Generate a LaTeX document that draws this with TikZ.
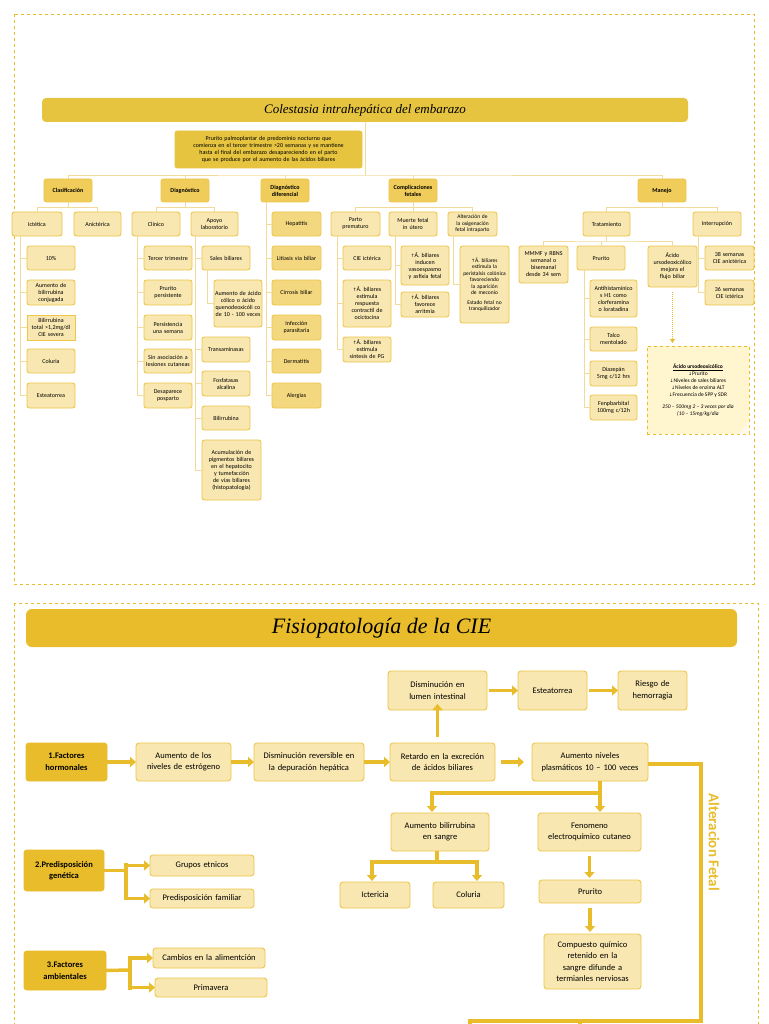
\documentclass[tikz,border=0pt]{standalone}
\usepackage{fontspec}
\setmainfont{Carlito}
\newfontfamily\djfont{DejaVu Sans}
\newfontfamily\ttlfont{Liberation Serif}
\usetikzlibrary{arrows.meta}
\hyphenpenalty=10000 \exhyphenpenalty=10000
\definecolor{gold}{HTML}{E8BC2A}
\definecolor{tbar}{HTML}{E6C440}
\definecolor{lvl}{HTML}{F0CD5A}
\definecolor{bfill}{HTML}{F8E7B0}
\definecolor{bdraw}{HTML}{EDC64A}
\definecolor{dfill}{HTML}{F4D87F}
\definecolor{tline}{HTML}{F2DB9A}
\definecolor{note}{HTML}{FFF5CF}
\newcommand\myup{{\djfont\fontsize{4.5}{5}\selectfont↑}}
\newcommand\mydn{{\djfont\fontsize{4.5}{5}\selectfont↓}}
\newcommand\bx[8][4]{\pgfmathsetmacro\ww{#6-#4}\pgfmathsetmacro\hh{#7-#5}\pgfmathsetmacro\tw{#6-#4-#1}%
\node[#2,minimum width=\ww pt,minimum height=\hh pt,text width=\tw pt] (#3) at ({(#4+#6)/2},{(#5+#7)/2}) {\hyphenpenalty=10000 #8};}
\tikzset{
 box/.style={draw=bdraw,fill=bfill,rounded corners=2.5pt,line width=0.9pt,align=center,inner sep=0pt,outer sep=0pt,font=\fontsize{6}{7}\selectfont},
 lbox/.style={box,fill=lvl,font=\bfseries\fontsize{6}{7}\selectfont},
 dbox/.style={box,fill=dfill},
 sbox/.style={box,rounded corners=0pt},
 bbox/.style={box,fill=bfill,draw=bdraw,rounded corners=3pt,font=\fontsize{8.5}{11.5}\selectfont},
 gbox/.style={bbox,fill=gold,draw=gold,font=\bfseries\fontsize{8.5}{11.5}\selectfont},
 tl/.style={draw=tline,line width=0.8pt},
 fat/.style={draw=gold,line width=3.5pt,-{Triangle[width=10pt,length=6pt]}},
 fl/.style={draw=gold,line width=3.5pt},
}
\begin{document}
\begin{tikzpicture}[x=1pt,y=-1pt]
\useasboundingbox (0,0) rectangle (768,1024);
\fill[white] (0,0) rectangle (768,1024);
% ---------- top section
\draw[gold,dashed,line width=0.7pt] (14,14) rectangle (754,584);
\node[fill=tbar,rounded corners=4pt,minimum width=646pt,minimum height=24pt,inner sep=0pt,font=\ttlfont\itshape\fontsize{13}{14}\selectfont] (title) at (365,110) {Colestasia intrahepática del embarazo};
\bx[8]{box,fill=tbar,draw=tbar}{intro}{175}{131}{362}{168}{Prurito palmoplantar de predominio nocturno que comienza en el tercer trimestre >20 semanas y se mantiene hasta el final del embarazo desapareciendo en el parto que se produce por el aumento de las ácidos biliares}
\bx{lbox}{clas}{44}{179}{92}{202}{Clasificación}
\bx{lbox}{diag}{161}{179}{209}{202}{Diagnóstico}
\bx{lbox}{ddif}{261}{179}{309}{202}{Diagnóstico diferencial}
\bx{lbox}{comp}{389}{179}{437}{202}{Complicaciones fetales}
\bx{lbox}{man}{638}{179}{686}{202}{Manejo}
\coordinate (h1) at (365,175);
\draw[tl] (title.south -| h1) -- (h1);
\draw[tl] (clas.north) |- (h1) -| (man.north);
\foreach \n in {diag,ddif,comp} \draw[tl] (\n.north) -- (\n.north |- h1);
% level 2
\bx{box}{icte}{12}{212}{62}{236}{Ictética}
\bx{box}{anic}{74}{212}{121}{236}{Anictérica}
\bx[10]{box}{clin}{132}{212}{180}{236}{Clínico}
\bx[10]{box}{apoyo}{191}{212}{238}{236}{Apoyo laboratorio}
\bx[12]{box}{parto}{331}{212}{380}{236}{Parto prematuro}
\bx[2]{box}{muerte}{389}{212}{437}{236}{Muerte fetal in útero}
\bx[2]{box,font=\fontsize{5.5}{6.5}\selectfont}{alter}{448}{212}{497}{236}{Alteración de la oxigenación fetal intraparto}
\bx{box}{trat}{583}{212}{630}{236}{Tratamiento}
\bx{box}{inter}{693}{212}{741}{236}{Interrupción}
\draw[tl] (clas.south) -- ++(0,5) -| (icte.north); \draw[tl] (clas.south) ++(0,5) -| (anic.north);
\draw[tl] (diag.south) -- ++(0,5) -| (clin.north); \draw[tl] (diag.south) ++(0,5) -| (apoyo.north);
\draw[tl] (comp.south) -- ++(0,5) -| (parto.north); \draw[tl] (comp.south) ++(0,5) -| (alter.north);
\draw[tl] (comp.south) -- (muerte.north);
\draw[tl] (man.south) -- ++(0,5) -| (trat.north); \draw[tl] (man.south) ++(0,5) -| (inter.north);
% Ictetica children
\bx{box}{i1}{27}{246}{75}{270}{10\%}
\bx[8]{box}{i2}{27}{280}{75}{305}{Aumento de bilirrubina conjugada}
\bx[2]{sbox}{i3}{27}{315}{75}{340}{Bilirrubina total >1,2mg/dl CIE severa}
\bx{box}{i4}{27}{349}{75}{373}{Coluria}
\bx{box}{i5}{27}{383}{75}{408}{Esteatorrea}
\draw[tl] ([xshift=8pt]icte.south west) |- (i5.west);
\foreach \n in {i1,i2,i3,i4} \draw[tl] (\n.west) -- ++(-7,0);
% Clinico
\bx[2]{box}{c1}{144}{246}{192}{270}{Tercer trimestre}
\bx[8]{box}{c2}{144}{280}{192}{305}{Prurito persistente}
\bx[2]{box}{c3}{144}{315}{192}{340}{Persistencia una semana}
\bx[2]{box}{c4}{144}{349}{192}{373}{Sin asociación a lesiones cutaneas}
\bx[8]{box}{c5}{144}{383}{192}{408}{Desaparece posparto}
\draw[tl] ([xshift=5pt]clin.south west) |- (c5.west);
\foreach \n in {c1,c2,c3,c4} \draw[tl] (\n.west) -- ++(-7,0);
% Apoyo
\bx[2]{box}{a1}{202}{246}{250}{270}{Sales biliares}
\bx[2]{box}{a2}{214}{280}{262}{327}{Aumento de ácido cólico o ácido quenodeoxicóli co de 10 - 100 veces}
\bx[2]{box}{a3}{202}{337}{250}{362}{Transaminasas}
\bx[8]{box}{a4}{202}{371}{250}{396}{Fosfatasas alcalina}
\bx{box}{a5}{202}{406}{250}{430}{Bilirrubina}
\bx[3]{box}{a6}{202}{440}{261}{500}{Acumulación de pigmentos biliares en el hepatocito y tumefacción de vías biliares (histopatología)}
\draw[tl] ([xshift=4pt]apoyo.south west) |- (a6.west);
\foreach \n in {a1,a3,a4,a5} \draw[tl] (\n.west) -- ++(-7,0);
\draw[tl] ([xshift=5pt]a1.south west) |- (a2.west);
% Dx diferencial
\bx{dbox}{d1}{272}{212}{321}{236}{Hepatitis}
\bx[2]{dbox}{d2}{272}{246}{321}{270}{Litiasis via biliar}
\bx{dbox}{d3}{272}{280}{321}{305}{Cirrosis biliar}
\bx[8]{dbox}{d4}{272}{315}{321}{340}{Infección parasitaria}
\bx{dbox}{d5}{272}{349}{321}{373}{Dermatitis}
\bx{dbox}{d6}{272}{383}{321}{408}{Alergias}
\draw[tl] ([xshift=5pt]ddif.south west) |- (d6.west);
\foreach \n in {d1,d2,d3,d4,d5} \draw[tl] (\n.west) -- ++(-6,0);
% Parto
\bx{box}{p1}{343}{246}{391}{270}{CIE ictérica}
\bx[4]{box}{p2}{343}{280}{391}{327}{\myup Á. biliares estimula respuesta contractil de ocictocina}
\bx[8]{box}{p3}{343}{337}{391}{362}{\myup Á. biliares estimula síntesis de PG}
\draw[tl] ([xshift=6pt]parto.south west) |- (p3.west);
\foreach \n in {p1,p2} \draw[tl] (\n.west) -- ++(-6,0);
% Muerte
\bx[4]{box}{m1}{401}{246}{449}{285}{\myup Á. biliares inducen vasoespasmo y asfixia fetal}
\bx[8]{box}{m2}{401}{292}{449}{317}{\myup Á. biliares favorece arritmia}
\draw[tl] ([xshift=6pt]muerte.south west) |- (m2.west);
\draw[tl] (m1.west) -- ++(-6,0);
% Alteracion
\bx[3]{box,font=\fontsize{5.5}{6.5}\selectfont}{al1}{460}{246}{509}{323}{\myup Á. biliares estimula la peristalsis colónica favoreciendo la aparición de meconio\\[3pt] Estado fetal no tranquilizador}
\draw[tl] ([xshift=5pt]alter.south west) |- (al1.west);
% Tratamiento
\bx[3]{box}{t1}{519}{246}{568}{283}{MMMF y RBNS semanal o bisemanal desde 34 sem}
\bx{box}{t2}{577}{246}{625}{270}{Prurito}
\bx[3]{box}{t3}{648}{246}{697}{287}{Ácido ursodeoxicólico mejora el flujo biliar}
\draw[tl] (trat.south) -- ++(0,5) coordinate (tt);
\draw[tl] (t1.north) |- (tt) -| (t3.north);
\draw[tl] (t2.north) -- (t2.north |- tt);
\bx[2]{box}{r1}{590}{280}{637}{317}{Antihistamínico s H1 como clorferamina o loratadina}
\bx[8]{box}{r2}{590}{327}{637}{351}{Talco mentolado}
\bx[8]{box}{r3}{590}{361}{637}{386}{Diazepán 5mg c/12 hrs}
\bx[2]{box}{r4}{590}{395}{637}{420}{Fenpbarbital 100mg c/12h}
\draw[tl] ([xshift=7pt]t2.south west) |- (r4.west);
\foreach \n in {r1,r2,r3} \draw[tl] (\n.west) -- ++(-6,0);
% Interrupcion
\bx[2]{box}{n1}{705}{246}{754}{270}{38 semanas CIE anictérica}
\bx[2]{box}{n2}{705}{280}{754}{305}{36 semanas CIE ictérica}
\draw[tl] ([xshift=5pt]inter.south west) |- (n2.west);
\draw[tl] (n1.west) -- ++(-7,0);
% note
\node[draw=gold,dashed,fill=note,minimum width=102pt,minimum height=88pt,inner sep=0pt,outer sep=0pt] (nt) at (698,390) {};
\fill[white!90!gold] (nt.south east) -- ++(-12,0) -- ++(12,-12) -- cycle;
\node[align=center,font=\fontsize{5.5}{7}\selectfont] at (nt.center) {\textbf{\underline{Ácido ursodeoxicólico}}\\ \mydn Prurito\\ \mydn Niveles de sales biliares\\ \mydn Niveles de enzima ALT\\ \mydn Frecuencia de SPP y SDR\\[5pt] \itshape 250 – 500mg 2 – 3 veces por día\\ \itshape (10 – 15mg/kg/día};
\draw[gold,densely dotted,line width=1pt,-{Triangle[width=5pt,length=4pt]}] (t3.south |- 0,292) -- (t3.south |- 0,343);
% ---------- bottom section
\draw[gold,dashed,line width=0.7pt] (14,603) rectangle (758,1030);
\node[fill=gold,rounded corners=6pt,minimum width=711pt,minimum height=38pt,inner sep=0pt,font=\ttlfont\itshape\fontsize{22}{24}\selectfont] (t2t) at (381.5,628) {Fisiopatología de la CIE};
\bx[22]{gbox}{f1}{26}{743}{107}{781}{1.Factores hormonales}
\bx[14]{bbox}{b1}{136}{743}{231}{781}{Aumento de los niveles de estrógeno}
\bx[8]{bbox}{b2}{254}{743}{364}{781}{Disminución reversible en la depuración hepática}
\bx[10]{bbox}{b3}{390}{743}{495}{781}{Retardo en la excreción de ácidos biliares}
\bx[8]{bbox}{b4}{532}{743}{648}{781}{Aumento niveles plasmáticos 10 – 100 veces}
\bx[14]{bbox}{u1}{388}{671}{487}{710}{Disminución en lumen intestinal}
\bx{bbox}{u2}{518}{671}{587}{710}{Esteatorrea}
\bx[12]{bbox}{u3}{618}{671}{687}{710}{Riesgo de hemorragia}
\draw[fat] (f1) -- (b1); \draw[fat] (b1) -- (b2); \draw[fat] (b2) -- (b3); \draw[fat] ([xshift=6pt]b3.east) -- ([xshift=-8pt]b4.west);
\draw[fat,shorten <=6pt] (b3.north -| u1) -- ([yshift=6pt]u1.south);
\draw[fat,shorten <=2pt] (u1) -- (u2); \draw[fat,shorten <=2pt] (u2) -- (u3);
\bx[16]{bbox}{g1}{391}{813}{489}{851}{Aumento bilirrubina en sangre}
\bx[4]{bbox}{g2}{538}{813}{641}{851}{Fenomeno electroquímico cutaneo}
\bx{bbox}{g3}{340}{882}{410}{908}{Ictericia}
\bx{bbox}{g4}{433}{882}{504}{908}{Coluria}
\bx{bbox}{g5}{539}{880}{641}{903}{Prurito}
\bx[14]{bbox}{g6}{544}{934}{641}{989}{Compuesto químico retenido en la sangre difunde a termianles nerviosas}
\draw[fl] (600,781) -- (600,793) coordinate (k1);
\draw[fat] (k1) -- (600,812);
\draw[fat] (k1) -| (432,812);
\draw[fl] (437,851) -- (437,862) coordinate (k2);
\draw[fat] (k2) -| (372,881);
\draw[fat] (k2) -| (477,881);
\draw[fat] (g2.south |- 0,856) -- (g2.south |- 0,878);
\draw[fat] (g5.south |- 0,908) -- (g5.south |- 0,932);
\bx[6]{gbox}{f2}{24}{850}{104}{891}{2.Predisposición genética}
\bx{bbox}{e1}{150}{855}{254}{876}{Grupos etnicos}
\bx{bbox}{e2}{150}{889}{254}{908}{Predisposición familiar}
\draw[fl] (f2.east) -- (126,870.5);
\draw[fat] (126,865) |- (e1.west); \draw[fat] (126,876) |- (e2.west);
\draw[fl] (126,863) -- (126,878);
\bx[22]{gbox}{f3}{24}{951}{106}{990}{3.Factores ambientales}
\bx{bbox}{e3}{153}{948}{265}{968}{Cambios en la alimentción}
\bx{bbox}{e4}{155}{978}{267}{997}{Primavera}
\draw[fl] (f3.east) -- (130,970);
\draw[fl] (130,956) -- (130,990);
\draw[fat] (130,958) |- (e3.west); \draw[fat] (130,988) |- (e4.west);
% alteracion fetal
\draw[fl] (b4.east |- 0,764) -- (701,764) -- (701,1021) -- (470,1021) -- (470,1030);
\draw[fl] (580,1021) -- (580,1030);
\node[rotate=-90,text=gold,font=\bfseries\fontsize{15}{16}\selectfont] (af) at (714,842) {Alteracion Fetal};
\end{tikzpicture}
\end{document}
